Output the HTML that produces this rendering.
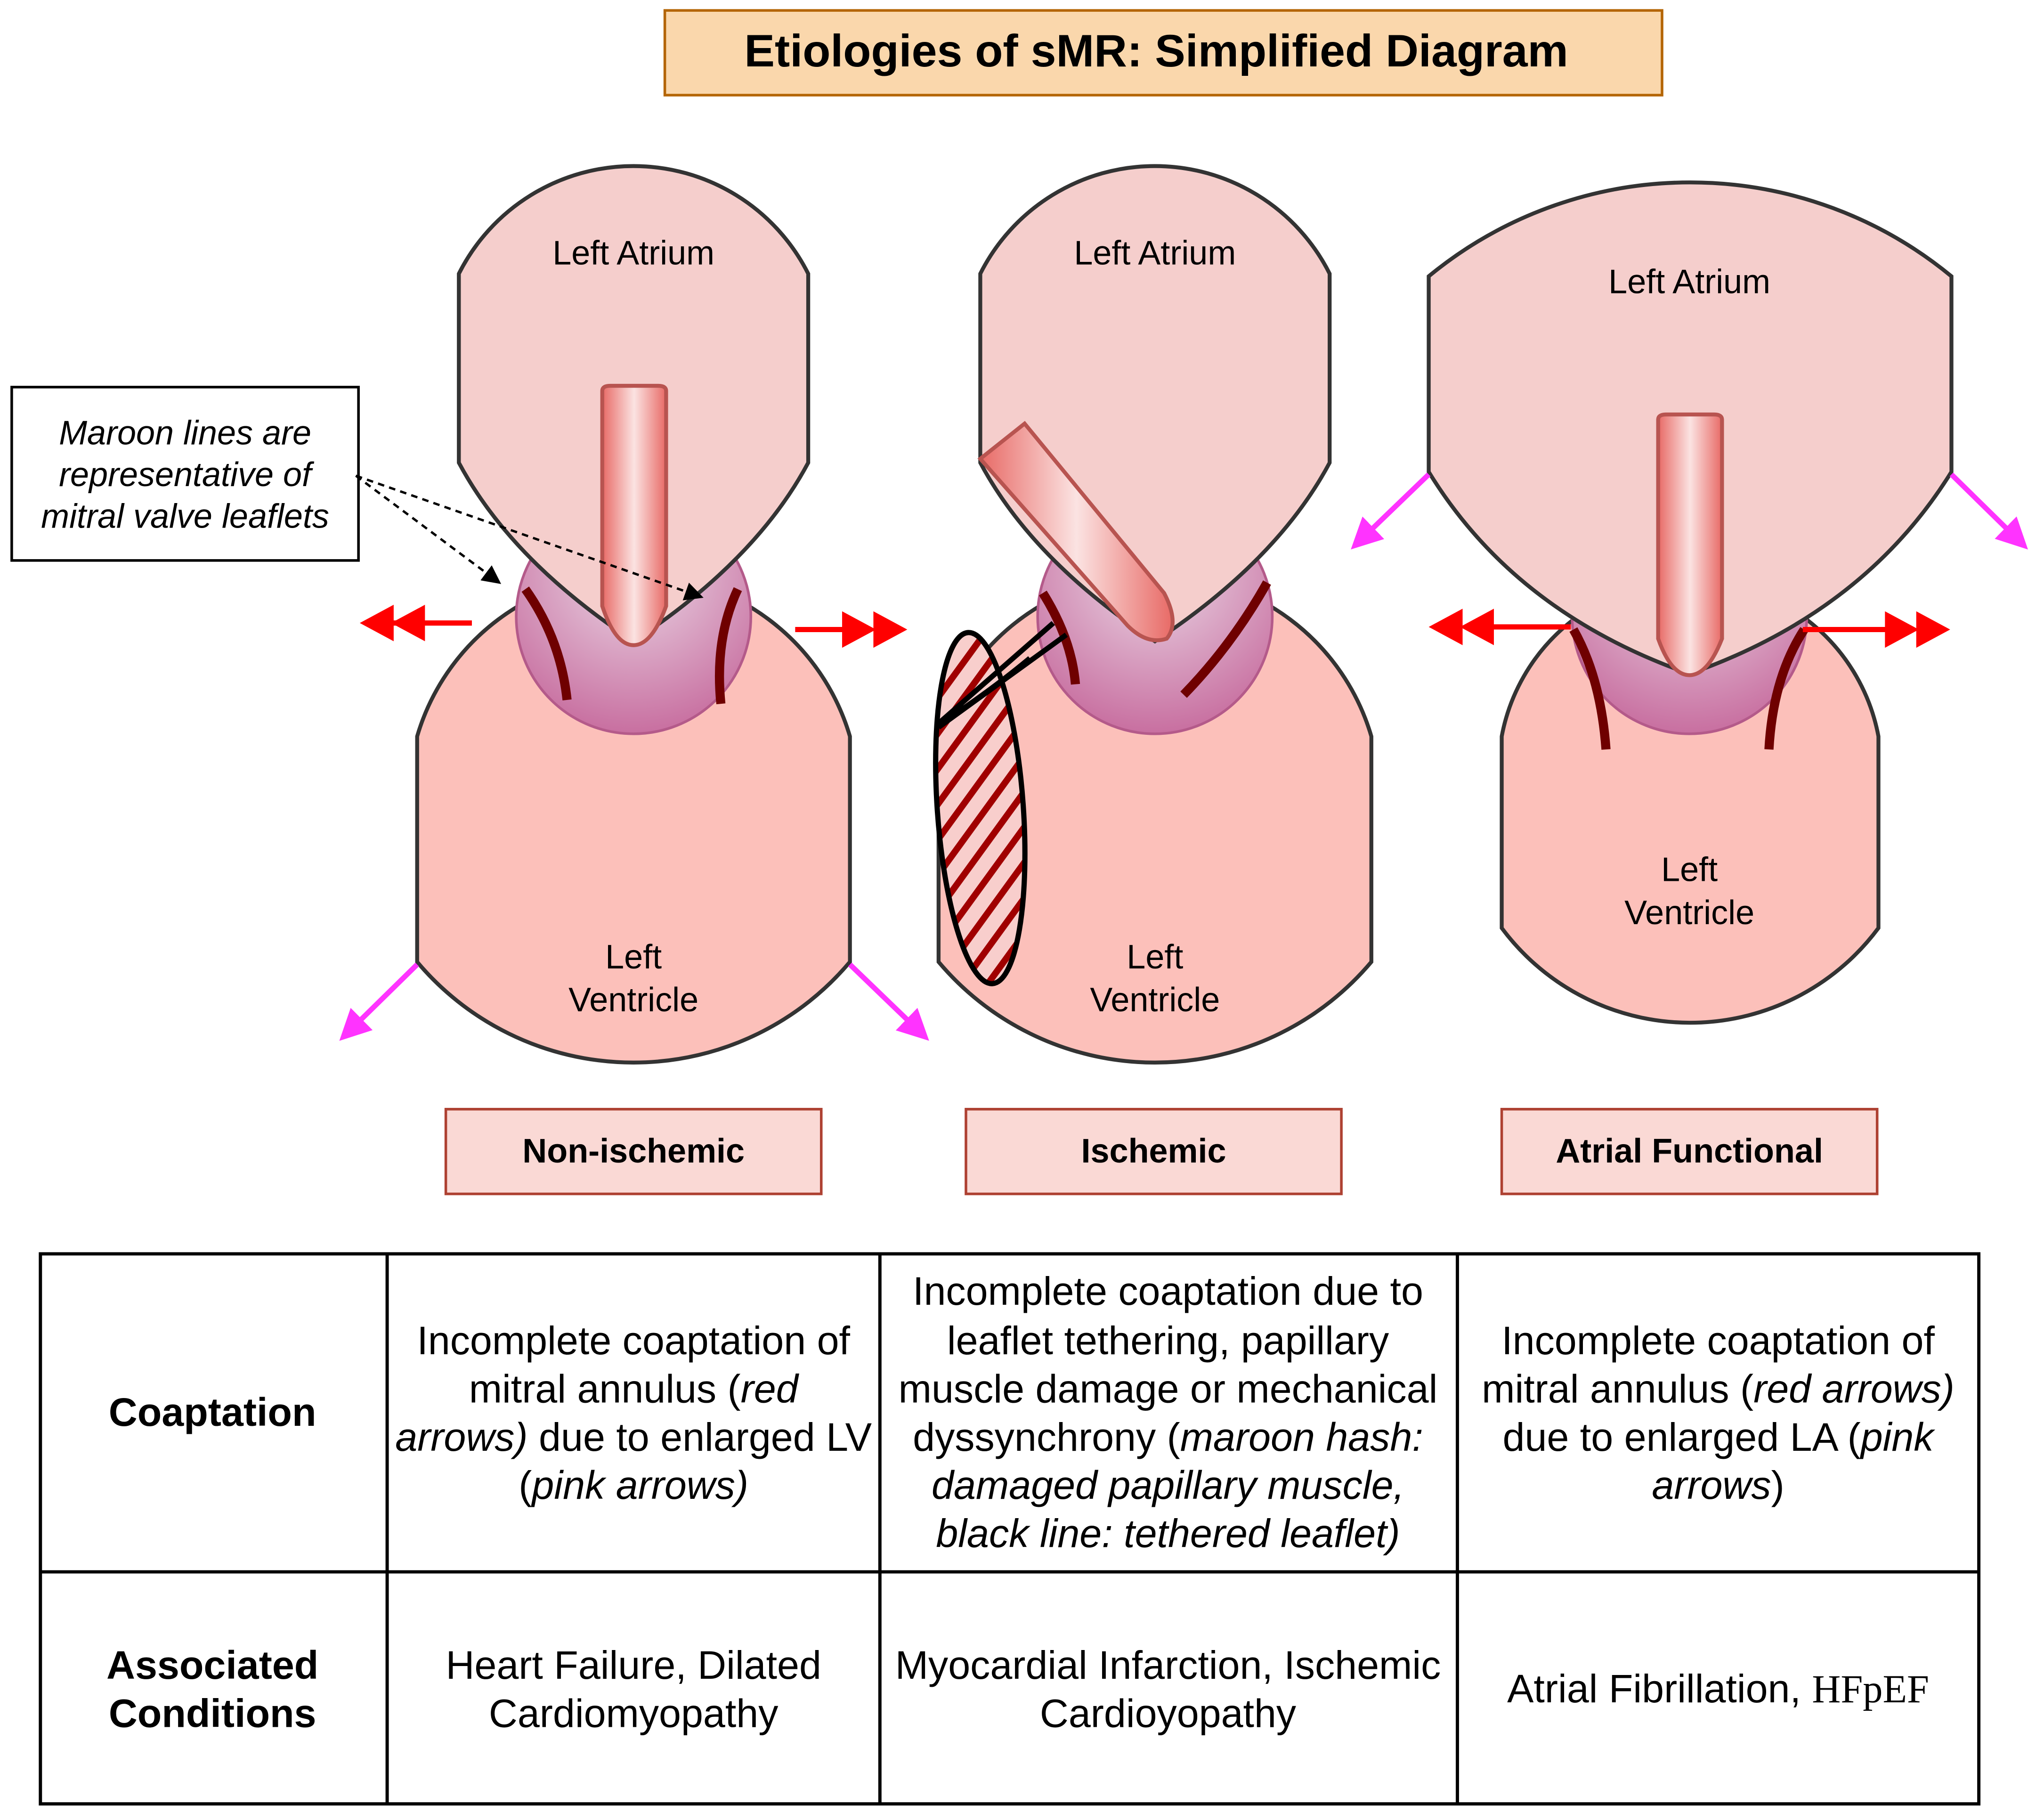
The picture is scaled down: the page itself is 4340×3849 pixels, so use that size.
<!DOCTYPE html>
<html><head><meta charset="utf-8"><style>html,body{margin:0;padding:0;background:#fff}svg{display:block}</style></head><body>
<svg width="4340" height="3849" viewBox="0 0 1568 1391" preserveAspectRatio="none" xmlns="http://www.w3.org/2000/svg" font-family="Liberation Sans, Arial, sans-serif">
<defs>
<radialGradient id="pv" cx="50%" cy="30%" r="70%"><stop offset="0" stop-color="#ead8e6"/><stop offset="1" stop-color="#c86fa0"/></radialGradient>
<linearGradient id="cat" x1="0" x2="1" y1="0" y2="0"><stop offset="0" stop-color="#e86a66"/><stop offset="0.5" stop-color="#fbe3e2"/><stop offset="1" stop-color="#e86a66"/></linearGradient>
<pattern id="hatch" width="16" height="16" patternUnits="userSpaceOnUse" patternTransform="rotate(40)"><rect width="16" height="16" fill="#f8cecc"/><rect width="5" height="16" fill="#a00000"/></pattern>
<marker id="pa" markerWidth="6" markerHeight="6" refX="4" refY="3" orient="auto" markerUnits="strokeWidth"><path d="M0,0 L6,3 L0,6 Z" fill="#ff33ff"/></marker>
<marker id="ba" markerWidth="8" markerHeight="8" refX="7" refY="4" orient="auto" markerUnits="strokeWidth"><path d="M0,0 L8,4 L0,8 Z" fill="#000"/></marker>
</defs>

<rect x="510" y="8" width="765" height="65" fill="#fad7ac" stroke="#b46504" stroke-width="2"/>
<text x="887" y="51" text-anchor="middle" font-size="35" font-weight="bold">Etiologies of sMR: Simplified Diagram</text>

<!-- Panel 1 -->
<g>
<path d="M320,565 A173,173 0 0 1 652,565 L652,738 A217,217 0 0 1 320,738 Z" fill="#fcc0ba" stroke="#333" stroke-width="3"/>
<circle cx="486" cy="473" r="90" fill="url(#pv)" stroke="#b45a8a" stroke-width="2"/>
<path d="M352,210 A150,150 0 0 1 620,210 L620,355 Q580,430 486,492 Q392,430 352,355 Z" fill="#f5cecc" stroke="#333" stroke-width="3"/>
<path d="M462,300 Q462,296 468,296 L505,296 Q511,296 511,300 L511,465 Q500,495 486,495 Q472,495 462,465 Z" fill="url(#cat)" stroke="#b85450" stroke-width="3"/>
<path d="M403,452 Q430,490 435,537" fill="none" stroke="#6f0000" stroke-width="7"/>
<path d="M566,452 Q548,490 553,540" fill="none" stroke="#6f0000" stroke-width="7"/>
<line x1="362" y1="478" x2="300" y2="478" stroke="#f00" stroke-width="4"/>
<path d="M302,464 L276,478 L302,492 Z M326,464 L300,478 L326,492 Z" fill="#f00"/>
<line x1="610" y1="483" x2="660" y2="483" stroke="#f00" stroke-width="4"/>
<path d="M646,469 L672,483 L646,497 Z M670,469 L696,483 L670,497 Z" fill="#f00"/>
<line x1="320" y1="740" x2="266" y2="793" stroke="#ff33ff" stroke-width="4" marker-end="url(#pa)"/>
<line x1="652" y1="740" x2="707" y2="793" stroke="#ff33ff" stroke-width="4" marker-end="url(#pa)"/>
<text x="486" y="203" text-anchor="middle" font-size="26">Left Atrium</text>
<text x="486" y="743" text-anchor="middle" font-size="26">Left</text>
<text x="486" y="776" text-anchor="middle" font-size="26">Ventricle</text>
</g>

<!-- Panel 2 -->
<g>
<path d="M720,565 A173,173 0 0 1 1052,565 L1052,738 A217,217 0 0 1 720,738 Z" fill="#fcc0ba" stroke="#333" stroke-width="3"/>
<circle cx="886" cy="473" r="90" fill="url(#pv)" stroke="#b45a8a" stroke-width="2"/>
<path d="M752,210 A150,150 0 0 1 1020,210 L1020,355 Q980,430 886,492 Q792,430 752,355 Z" fill="#f5cecc" stroke="#333" stroke-width="3"/>
<path d="M752,352 L786,325 L893,455 Q905,478 895,490 Q880,495 865,480 Z" fill="url(#cat)" stroke="#b85450" stroke-width="3"/>
<path d="M800,455 Q822,490 825,525" fill="none" stroke="#6f0000" stroke-width="7"/>
<path d="M972,447 Q945,495 908,533" fill="none" stroke="#6f0000" stroke-width="7"/>
<ellipse cx="752" cy="620" rx="33" ry="135" transform="rotate(-4 752 620)" fill="url(#hatch)" stroke="#000" stroke-width="4"/>
<path d="M720,555 L808,478 M720,558 L818,487 M722,555 Q760,530 790,505" fill="none" stroke="#000" stroke-width="4"/>
<text x="886" y="203" text-anchor="middle" font-size="26">Left Atrium</text>
<text x="886" y="743" text-anchor="middle" font-size="26">Left</text>
<text x="886" y="776" text-anchor="middle" font-size="26">Ventricle</text>
</g>

<!-- Panel 3 -->
<g>
<path d="M1152,565 A147,147 0 0 1 1441,565 L1441,712 A180,180 0 0 1 1152,712 Z" fill="#fcc0ba" stroke="#333" stroke-width="3"/>
<circle cx="1296" cy="473" r="90" fill="url(#pv)" stroke="#b45a8a" stroke-width="2"/>
<path d="M1096,212 A315,315 0 0 1 1497,212 L1497,362 Q1430,470 1296,517 Q1162,470 1096,362 Z" fill="#f5cecc" stroke="#333" stroke-width="3"/>
<path d="M1272,322 Q1272,318 1278,318 L1315,318 Q1321,318 1321,322 L1321,490 Q1310,518 1296,518 Q1282,518 1272,490 Z" fill="url(#cat)" stroke="#b85450" stroke-width="3"/>
<path d="M1207,483 Q1228,520 1232,575" fill="none" stroke="#6f0000" stroke-width="7"/>
<path d="M1384,483 Q1360,520 1357,575" fill="none" stroke="#6f0000" stroke-width="7"/>
<line x1="1205" y1="481" x2="1130" y2="481" stroke="#f00" stroke-width="4"/>
<path d="M1122,467 L1096,481 L1122,495 Z M1146,467 L1120,481 L1146,495 Z" fill="#f00"/>
<line x1="1383" y1="483" x2="1460" y2="483" stroke="#f00" stroke-width="4"/>
<path d="M1446,469 L1472,483 L1446,497 Z M1470,469 L1496,483 L1470,497 Z" fill="#f00"/>
<line x1="1096" y1="364" x2="1042" y2="416" stroke="#ff33ff" stroke-width="4" marker-end="url(#pa)"/>
<line x1="1497" y1="364" x2="1550" y2="416" stroke="#ff33ff" stroke-width="4" marker-end="url(#pa)"/>
<text x="1296" y="225" text-anchor="middle" font-size="26">Left Atrium</text>
<text x="1296" y="676" text-anchor="middle" font-size="26">Left</text>
<text x="1296" y="709" text-anchor="middle" font-size="26">Ventricle</text>
</g>

<!-- callout -->
<rect x="9" y="297" width="266" height="133" fill="#fff" stroke="#000" stroke-width="2"/>
<g font-size="26" font-style="italic" text-anchor="middle">
<text x="142" y="341">Maroon lines are</text>
<text x="142" y="373">representative of</text>
<text x="142" y="405">mitral valve leaflets</text>
</g>
<line x1="273" y1="365" x2="383" y2="447" stroke="#000" stroke-width="1.8" stroke-dasharray="5,4" marker-end="url(#ba)"/>
<line x1="273" y1="365" x2="538" y2="458" stroke="#000" stroke-width="1.8" stroke-dasharray="5,4" marker-end="url(#ba)"/>

<!-- labels -->
<g fill="#fad9d5" stroke="#ae4132" stroke-width="2">
<rect x="342" y="851" width="288" height="65"/>
<rect x="741" y="851" width="288" height="65"/>
<rect x="1152" y="851" width="288" height="65"/>
</g>
<g font-size="26" font-weight="bold" text-anchor="middle">
<text x="486" y="892">Non-ischemic</text>
<text x="885" y="892">Ischemic</text>
<text x="1296" y="892">Atrial Functional</text>
</g>

<!-- table -->
<g stroke="#000" stroke-width="2.5" fill="none">
<rect x="31" y="962" width="1487" height="422"/>
<line x1="31" y1="1206" x2="1518" y2="1206"/>
<line x1="297" y1="962" x2="297" y2="1384"/>
<line x1="675" y1="962" x2="675" y2="1384"/>
<line x1="1118" y1="962" x2="1118" y2="1384"/>
</g>
<g font-size="30.5" text-anchor="middle">
<text x="163" y="1094" font-weight="bold">Coaptation</text>
<text x="163" y="1288" font-weight="bold">Associated</text>
<text x="163" y="1325" font-weight="bold">Conditions</text>
<text x="486" y="1039">Incomplete coaptation of</text>
<text x="486" y="1076">mitral annulus (<tspan font-style="italic">red</tspan></text>
<text x="486" y="1113"><tspan font-style="italic">arrows)</tspan> due to enlarged LV</text>
<text x="486" y="1150">(<tspan font-style="italic">pink arrows)</tspan></text>
<text x="896" y="1001">Incomplete coaptation due to</text>
<text x="896" y="1039">leaflet tethering, papillary</text>
<text x="896" y="1076">muscle damage or mechanical</text>
<text x="896" y="1113">dyssynchrony (<tspan font-style="italic">maroon hash:</tspan></text>
<text x="896" y="1150" font-style="italic">damaged papillary muscle,</text>
<text x="896" y="1187" font-style="italic">black line: tethered leaflet)</text>
<text x="1318" y="1039">Incomplete coaptation of</text>
<text x="1318" y="1076">mitral annulus (<tspan font-style="italic">red arrows)</tspan></text>
<text x="1318" y="1113">due to enlarged LA (<tspan font-style="italic">pink</tspan></text>
<text x="1318" y="1150"><tspan font-style="italic">arrows</tspan>)</text>
<text x="486" y="1288">Heart Failure, Dilated</text>
<text x="486" y="1325">Cardiomyopathy</text>
<text x="896" y="1288">Myocardial Infarction, Ischemic</text>
<text x="896" y="1325">Cardioyopathy</text>
<text x="1318" y="1306">Atrial Fibrillation, <tspan font-family="Liberation Serif, serif">HFpEF</tspan></text>
</g>
</svg>
</body></html>
